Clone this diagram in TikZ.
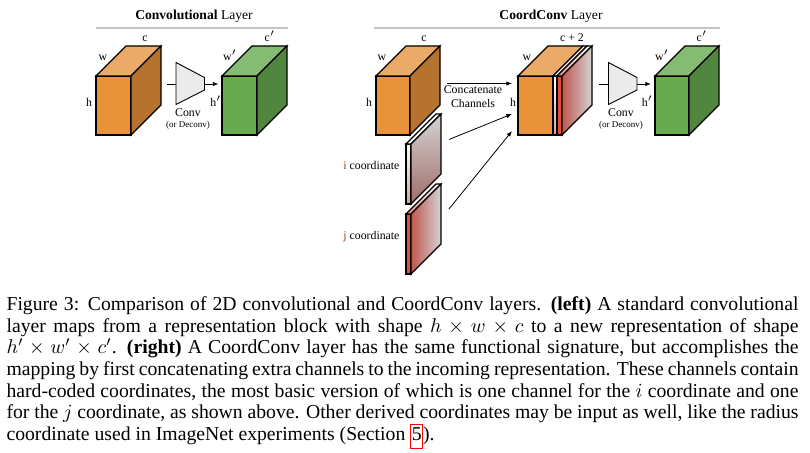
\documentclass[tikz,border=0pt]{standalone}
\usepackage{fontspec}
\setmainfont{Liberation Serif}[WordSpace={1,1,1.8}]
\usepackage{xcolor}
\usepackage{tikz}
\usetikzlibrary{arrows.meta}
\definecolor{orfront}{RGB}{232,146,58}
\definecolor{ortop}{RGB}{236,170,105}
\definecolor{orside}{RGB}{181,115,47}
\definecolor{grfront}{RGB}{104,170,80}
\definecolor{grtop}{RGB}{134,187,114}
\definecolor{grside}{RGB}{80,134,61}
\definecolor{convgray}{RGB}{235,235,235}
\definecolor{rulegray}{RGB}{195,195,195}
\definecolor{jred}{RGB}{222,78,58}
\definecolor{jside}{RGB}{192,86,78}
\definecolor{jtop}{RGB}{234,140,126}
\definecolor{ibot}{RGB}{160,108,104}
\definecolor{ifront}{RGB}{214,162,158}
\definecolor{slabgray}{RGB}{212,212,212}
\definecolor{coordred}{RGB}{170,55,45}
\newcommand{\refbox}[1]{{\setlength\fboxsep{0.2pt}\setlength\fboxrule{0.55pt}\color{red}\fbox{\color{black}\strut#1}}}

\begin{document}
\begin{tikzpicture}[x=0.5pt,y=-0.5pt,line width=0.55pt,
    lab/.style={font=\fontsize{5.9}{7}\selectfont,inner sep=0pt,anchor=base},
    small/.style={font=\fontsize{4.5}{5.5}\selectfont,inner sep=0pt,anchor=base},
    ttl/.style={font=\fontsize{6.8}{8}\selectfont,inner sep=0pt,anchor=base},
    arr/.style={line width=0.4pt,-{Latex[length=2.8pt,width=2.2pt]}},
    rule/.style={draw=rulegray,line width=0.6pt}]
  \fill[white] (0,0) rectangle (810,453);
  \useasboundingbox (0,0) rectangle (810,453);

  % titles and rules
  \node[ttl] (ttlconv) at (194,20) {\textbf{Convolutional} Layer};
  \draw[rule] (96,28) -- (288,28);
  \node[ttl] (ttlcoord) at (551,20) {\textbf{CoordConv} Layer};
  \draw[rule] (374,28) -- (720,28);

  %% the plain blocks: x / width / colours
  \foreach \x/\w/\cf/\ct/\cs in {96/35/orfront/ortop/orside, 222/35/grfront/grtop/grside,
    376/34/orfront/ortop/orside, 655/34/grfront/grtop/grside}
  {
    \filldraw[fill=\cf] (\x,76) rectangle ++(\w,59);
    \filldraw[fill=\ct] (\x,76) -- ++(30,-30) -- ++(\w,0) -- ++(-30,30) -- cycle;
    \filldraw[fill=\cs] (\x+\w,76) -- ++(30,-30) -- ++(0,59) -- ++(-30,30) -- cycle;
  }

  % the concatenated block
  \filldraw[fill=orfront] (518,76) rectangle (553,135);
  \filldraw[fill=ortop] (518,76) -- (548,46) -- (583,46) -- (553,76) -- cycle;
  \shadedraw[top color=white,bottom color=ifront] (553,76) rectangle (557,135);
  \filldraw[fill=white] (553,76) -- (583,46) -- (587,46) -- (557,76) -- cycle;
  \filldraw[fill=jred] (557,76) rectangle (562,135);
  \shadedraw[left color=jtop,right color=white] (557,76) -- (587,46) -- (592,46) -- (562,76) -- cycle;
  \shadedraw[left color=jside,right color=slabgray] (562,76) -- (592,46) -- (592,105) -- (562,135) -- cycle;

  % i coordinate slab
  \shadedraw[top color=white,bottom color=ifront] (406,144) rectangle (411,204);
  \filldraw[fill=white] (406,144) -- (436,114) -- (441,114) -- (411,144) -- cycle;
  \shadedraw[top color=slabgray,bottom color=ibot] (411,144) -- (441,114) -- (441,174) -- (411,204) -- cycle;
  % j coordinate slab
  \filldraw[fill=jred] (406,214) rectangle (411,274);
  \shadedraw[left color=jtop,right color=white] (406,214) -- (436,184) -- (441,184) -- (411,214) -- cycle;
  \shadedraw[left color=jside,right color=slabgray] (411,214) -- (441,184) -- (441,244) -- (411,274) -- cycle;

  %% conv funnels
  \foreach \x/\n in {176/convA, 608.5/convB}
  {
    \filldraw[fill=convgray,line width=0.45pt] (\x,62.5) -- (\x+28.5,77.5) -- (\x+28.5,90) -- (\x,104.5) -- cycle;
    \coordinate (\n-in) at (\x,84);
    \coordinate (\n-out) at (\x+28.5,84);
  }
  \coordinate (convA-from) at (167,84);
  \coordinate (convA-to) at (218.5,84);
  \coordinate (convB-from) at (599,84);
  \coordinate (convB-to) at (651,84);
  \draw[line width=0.4pt] (convA-from) -- (convA-in);
  \draw[arr] (convA-out) -- (convA-to);
  \draw[line width=0.4pt] (convB-from) -- (convB-in);
  \draw[arr] (convB-out) -- (convB-to);

  % concatenate arrows
  \coordinate (catA) at (447,83.5);
  \coordinate (catAe) at (512,83.5);
  \coordinate (catB) at (449,139.5);
  \coordinate (catBe) at (512,114);
  \coordinate (catC) at (449,209);
  \coordinate (catCe) at (512,131);
  \draw[arr] (catA) -- (catAe);
  \draw[arr] (catB) -- (catBe);
  \draw[arr] (catC) -- (catCe);

  %% labels
  \node[lab] (cA) at (145,41.5) {c};
  \node[lab] (wA) at (103,61) {w};
  \node[lab] (hA) at (89,106.5) {h};
  \node[lab] (convAtxt) at (188,116.5) {Conv};
  \node[small] (convAsub) at (188,128) {(or Deconv)};
  \node[lab] (cpA) at (270,41.5) {c$'$};
  \node[lab] (wpA) at (230,61) {w$'$};
  \node[lab] (hpA) at (216,106.5) {h$'$};

  \node[lab] (cB) at (424,41.5) {c};
  \node[lab] (wB) at (382,61) {w};
  \node[lab] (hB) at (369,106.5) {h};
  \node[lab] (catT) at (473,94) {Concatenate};
  \node[lab] (catU) at (473,107.3) {Channels};
  \node[lab,anchor=base east] (icoord) at (400,169.5) {\textcolor{coordred}{i} coordinate};
  \node[lab,anchor=base east] (jcoord) at (400,239.5) {\textcolor{coordred}{j} coordinate};
  \node[lab] (cC) at (572,41.5) {c + 2};
  \node[lab] (wC) at (527,61) {w};
  \node[lab] (hC) at (513,106.5) {h};
  \node[lab] (convBtxt) at (621,116.5) {Conv};
  \node[small] (convBsub) at (621,128) {(or Deconv)};
  \node[lab] (cpB) at (702,41.5) {c$'$};
  \node[lab] (wpB) at (662,61) {w$'$};
  \node[lab] (hpB) at (647.5,106.5) {h$'$};

  % caption
  \node[anchor=north west,inner sep=0pt,text width=396pt,align=justify,
    font=\fontsize{9.85}{10.85}\selectfont] (caption) at (6,296)
  {\hyphenpenalty=10000
  Figure 3: Comparison of 2D convolutional and CoordConv layers. \textbf{(left)} A standard convolutional\linebreak
  layer maps from a representation block with shape $h \times w \times c$ to a new representation of shape\linebreak
  $h' \times w' \times c'$. \textbf{(right)} A CoordConv layer has the same functional signature, but accomplishes the\linebreak
  mapping by first concatenating extra channels to the incoming representation. These channels contain\linebreak
  hard-coded coordinates, the most basic version of which is one channel for the $i$ coordinate and one\linebreak
  for the $j$ coordinate, as shown above. Other derived coordinates may be input as well, like the radius\linebreak
  coordinate used in ImageNet experiments (Section~\refbox{5}).};
\end{tikzpicture}
\end{document}
